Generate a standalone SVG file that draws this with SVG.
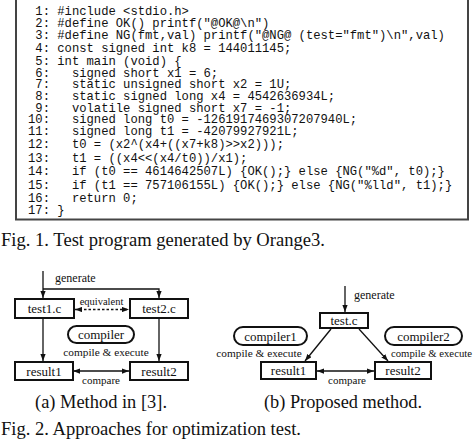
<svg xmlns="http://www.w3.org/2000/svg" width="474" height="439" viewBox="0 0 474 439">
<style>
.code{font-family:"Liberation Mono","DejaVu Sans Mono",monospace;font-size:12.2px;fill:#111;white-space:pre}
.cap{font-family:"Liberation Serif","Times New Roman",serif;font-size:18px;fill:#111}
.lbl{font-family:"Liberation Serif","Times New Roman",serif;font-size:13px;fill:#111;text-anchor:middle}
.sm{font-family:"Liberation Serif","Times New Roman",serif;font-size:11px;fill:#111}
.box{fill:#fff;stroke:#111;stroke-width:2}
.ln{fill:none;stroke:#111;stroke-width:1.3}
</style>
<defs>
<marker id="ah" viewBox="0 0 8 6" refX="8" refY="3" markerWidth="7" markerHeight="5.5" orient="auto-start-reverse" markerUnits="userSpaceOnUse">
<path d="M0,0 L8,3 L0,6 z" fill="#111"/>
</marker>
</defs>
<rect width="474" height="439" fill="#fff"/>

<g id="code-listing">
<rect x="16" y="-1.5" width="452" height="221" fill="#fff" stroke="#444" stroke-width="2"/>
<g xml:space="preserve">
<text class="code" x="28" y="15"> 1: #include &lt;stdio.h&gt;</text>
<text class="code" x="28" y="27.3"> 2: #define OK() printf("@OK@\n")</text>
<text class="code" x="28" y="39.3"> 3: #define NG(fmt,val) printf("@NG@ (test="fmt")\n",val)</text>
<text class="code" x="28" y="51.7"> 4: const signed int k8 = 144011145;</text>
<text class="code" x="28" y="65"> 5: int main (void) {</text>
<text class="code" x="28" y="76.7"> 6:   signed short x1 = 6;</text>
<text class="code" x="28" y="88.3"> 7:   static unsigned short x2 = 1U;</text>
<text class="code" x="28" y="100"> 8:   static signed long x4 = 4542636934L;</text>
<text class="code" x="28" y="112.3"> 9:   volatile signed short x7 = -1;</text>
<text class="code" x="28" y="123.3">10:   signed long t0 = -1261917469307207940L;</text>
<text class="code" x="28" y="135">11:   signed long t1 = -42079927921L;</text>
<text class="code" x="28" y="148.3">12:   t0 = (x2^(x4+((x7+k8)&gt;&gt;x2)));</text>
<text class="code" x="28" y="161.7">13:   t1 = ((x4&lt;&lt;(x4/t0))/x1);</text>
<text class="code" x="28" y="175">14:   if (t0 == 4614642507L) {OK();} else {NG("%d", t0);}</text>
<text class="code" x="28" y="189.3">15:   if (t1 == 757106155L) {OK();} else {NG("%lld", t1);}</text>
<text class="code" x="28" y="201.7">16:   return 0;</text>
<text class="code" x="28" y="214">17: }</text>
</g>
</g>
<text id="fig1-caption" class="cap" x="1" y="246" textLength="324" lengthAdjust="spacingAndGlyphs">Fig. 1. Test program generated by Orange3.</text>

<g id="connectors">
<path class="ln" d="M43,271 V298" marker-end="url(#ah)"/>
<path class="ln" d="M43,289 H159 V298" marker-end="url(#ah)"/>
<path class="ln" d="M75,309.5 H129" stroke-dasharray="2.5,2" marker-start="url(#ah)" marker-end="url(#ah)"/>
<path class="ln" d="M43,319 V361" marker-end="url(#ah)"/>
<path class="ln" d="M159,319 V361" marker-end="url(#ah)"/>
<path class="ln" d="M73,371 H129" marker-start="url(#ah)" marker-end="url(#ah)"/>
<path class="ln" d="M345,286 V312" marker-end="url(#ah)"/>
<path class="ln" d="M331,329 L305,361" marker-end="url(#ah)"/>
<path class="ln" d="M359,329 L388,361" marker-end="url(#ah)"/>
<path class="ln" d="M317,371 H374" marker-start="url(#ah)" marker-end="url(#ah)"/>
</g>
<text class="sm" x="55" y="282" style="font-size:12px">generate</text>
<text class="sm" x="101.5" y="305" text-anchor="middle" style="font-size:10.5px">equivalent</text>
<text class="sm" x="106" y="356" text-anchor="middle" style="font-size:11.3px">compile &amp; execute</text>
<text class="sm" x="101" y="383.5" text-anchor="middle">compare</text>

<g id="a-test1"><rect class="box" x="15" y="299" width="59" height="19"/><text class="lbl" x="44.5" y="313">test1.c</text></g>
<g id="a-test2"><rect class="box" x="130" y="299" width="58" height="19"/><text class="lbl" x="159" y="313">test2.c</text></g>
<g id="a-compiler"><rect class="box" x="68" y="326" width="66" height="17" rx="8.5"/><text class="lbl" x="101" y="339">compiler</text></g>
<g id="a-result1"><rect class="box" x="15" y="362" width="58" height="18"/><text class="lbl" x="44" y="375.5">result1</text></g>
<g id="a-result2"><rect class="box" x="130" y="362" width="58" height="18"/><text class="lbl" x="159" y="375.5">result2</text></g>
<text id="a-caption" class="cap" x="35" y="408" textLength="132" lengthAdjust="spacingAndGlyphs">(a) Method in [3].</text>

<text class="sm" x="354" y="299" style="font-size:12px">generate</text>
<text class="sm" x="259" y="356.5" text-anchor="middle" style="font-size:11.3px">compile &amp; execute</text>
<text class="sm" x="391" y="356.5" textLength="81" lengthAdjust="spacingAndGlyphs">compile &amp; execute</text>
<text class="sm" x="347" y="383.5" text-anchor="middle">compare</text>

<g id="b-test"><rect class="box" x="320" y="313" width="48" height="15"/><text class="lbl" x="344" y="325">test.c</text></g>
<g id="b-compiler1"><rect class="box" x="234" y="327" width="73" height="18" rx="9"/><text class="lbl" x="270.5" y="340.5">compiler1</text></g>
<g id="b-compiler2"><rect class="box" x="385" y="327" width="77" height="18" rx="9"/><text class="lbl" x="423.5" y="340.5">compiler2</text></g>
<g id="b-result1"><rect class="box" x="261" y="362" width="55" height="17"/><text class="lbl" x="288.5" y="375">result1</text></g>
<g id="b-result2"><rect class="box" x="375" y="362" width="56" height="17"/><text class="lbl" x="403" y="375">result2</text></g>
<text id="b-caption" class="cap" x="264" y="408" textLength="158" lengthAdjust="spacingAndGlyphs">(b) Proposed method.</text>

<text id="fig2-caption" class="cap" x="1" y="435" textLength="300" lengthAdjust="spacingAndGlyphs">Fig. 2. Approaches for optimization test.</text>
</svg>
